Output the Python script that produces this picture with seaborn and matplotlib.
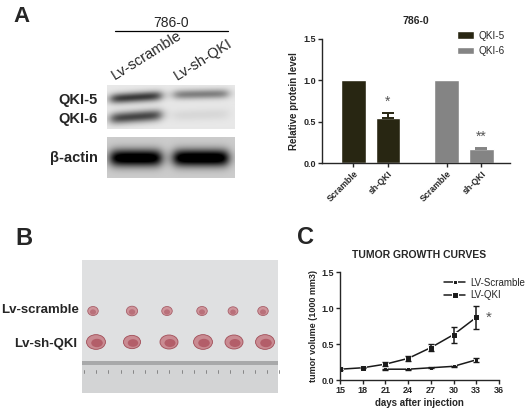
import numpy as np
import pandas as pd
import matplotlib
matplotlib.use("Agg")
import matplotlib.pyplot as plt
import seaborn as sns
from matplotlib.patches import Ellipse, Rectangle

# ---------------- data ----------------
# Panel A bar chart
bar_groups = ["QKI-5", "QKI-5", "QKI-6", "QKI-6"]
bar_labels = ["Scramble", "sh-QKI", "Scramble", "sh-QKI"]
bar_values = [1.0, 0.55, 1.0, 0.165]
bar_errors = [0.0, 0.05, 0.0, 0.02]
bar_stars = ["", "*", "", "**"]

# Panel A western blot band strengths [Lv-scramble, Lv-sh-QKI]
blot_lanes = ["Lv-scramble", "Lv-sh-QKI"]
band_qki5 = [0.75, 0.45]
band_qki6 = [0.70, 0.07]
band_actin = [0.95, 0.97]

# Panel B tumour sizes (relative) for 6 mice
tumor_scramble = [0.75, 0.8, 0.75, 0.75, 0.7, 0.75]
tumor_shqki = [1.05, 0.95, 1.0, 1.05, 1.0, 1.05]

# Panel C growth curves
days_scr = [21, 24, 27, 30, 33]
vol_scr = [0.15, 0.15, 0.17, 0.19, 0.28]
err_scr = [0.005, 0.005, 0.01, 0.01, 0.03]
days_qki = [15, 18, 21, 24, 27, 30, 33]
vol_qki = [0.15, 0.17, 0.22, 0.30, 0.45, 0.63, 0.87]
err_qki = [0.01, 0.01, 0.03, 0.035, 0.05, 0.11, 0.16]
day_ticks = [15, 18, 21, 24, 27, 30, 33, 36]

# ---------------- style ----------------
sns.set_theme(style="ticks")
plt.rcParams["font.family"] = ["Liberation Sans", "DejaVu Sans"]
plt.rcParams["axes.linewidth"] = 1.0

W, H = 528, 411
fig = plt.figure(figsize=(W / 100, H / 100), dpi=100)

# canvas axes in pixel coords for illustrations
cv = fig.add_axes([0, 0, 1, 1], zorder=0)
cv.set_xlim(0, W)
cv.set_ylim(H, 0)
cv.axis("off")

# panel letters
cv.text(22, 17, "A", fontsize=16, fontweight="bold", ha="center", va="center")
cv.text(24, 238, "B", fontsize=17, fontweight="bold", ha="center", va="center")
cv.text(306, 237, "C", fontsize=17, fontweight="bold", ha="center", va="center")

# ---------------- Panel A: blot ----------------
cv.text(171, 23, "786-0", fontsize=10, ha="center", va="center")
cv.plot([115, 228], [31, 31], color="black", lw=0.9)
cv.text(116, 83, "Lv-scramble", fontsize=10.5, rotation=32, ha="left", va="bottom",
        rotation_mode="anchor")
cv.text(179, 83, "Lv-sh-QKI", fontsize=10.5, rotation=32, ha="left", va="bottom",
        rotation_mode="anchor")
cv.text(98, 100, "QKI-5", fontsize=10.5, fontweight="bold", ha="right", va="center")
cv.text(98, 119, "QKI-6", fontsize=10.5, fontweight="bold", ha="right", va="center")
cv.text(98, 158, "\u03b2-actin", fontsize=10.5, fontweight="bold", ha="right", va="center")

lane_cx = [136, 201]
lane_hw = [25, 27]


def blot_image(x0, x1, y0, y1, bg, bands):
    xs = np.arange(x0, x1) + 0.5
    ys = np.arange(y0, y1) + 0.5
    X, Y = np.meshgrid(xs, ys)
    img = np.full(X.shape, bg)
    for (lane, cy, sy, strength, slope) in bands:
        cx, hw = lane_cx[lane], lane_hw[lane]
        box = 1 / (1 + np.exp(-(hw - np.abs(X - cx)) / 3.0))
        prof = np.exp(-0.5 * ((Y - cy + slope * (X - cx)) / sy) ** 2)
        img = img + strength * box * prof
    return np.clip(img, 0, 1)


up = blot_image(107, 235, 86, 129, 0.1, [
    (0, 98, 3.5, band_qki5[0], 0.06), (1, 95, 3.3, band_qki5[1], 0.02),
    (0, 117, 4.0, band_qki6[0], 0.07), (1, 115, 4.0, band_qki6[1], 0.03)])
cv.imshow(up, cmap="gray_r", vmin=0, vmax=1.1, extent=(107, 235, 129, 86),
          aspect="auto", interpolation="bilinear")
lo = blot_image(107, 235, 137, 178, 0.2, [
    (0, 158, 6.0, band_actin[0], 0.0), (1, 158, 6.0, band_actin[1], 0.0)])
cv.imshow(lo, cmap="gray_r", vmin=0, vmax=1.0, extent=(107, 235, 178, 137),
          aspect="auto", interpolation="bilinear")

# ---------------- Panel B: tumour photo ----------------
cv.add_patch(Rectangle((82, 260), 196, 133, facecolor="#dfe0e1", edgecolor="none"))
cv.add_patch(Rectangle((82, 362), 196, 31, facecolor="#d3d4d5", edgecolor="none"))
cv.add_patch(Rectangle((82, 361), 196, 4, facecolor="#a8a9aa", edgecolor="none"))
for i in range(17):
    xx = 84 + i * 12.2
    cv.plot([xx, xx], [370, 373], color="#7a7a7a", lw=0.6)
tx1 = [93, 132, 167, 202, 233, 263]
tx2 = [96, 132, 169, 203, 234, 265]
for i, s in enumerate(tumor_scramble):
    cv.add_patch(Ellipse((tx1[i], 311), 14 * s, 12 * s, facecolor="#cf959b",
                         edgecolor="#a8606a", lw=0.6))
    cv.add_patch(Ellipse((tx1[i], 312), 8 * s, 7 * s, facecolor="#b9707a", edgecolor="none"))
for i, s in enumerate(tumor_shqki):
    cv.add_patch(Ellipse((tx2[i], 342), 18 * s, 14 * s, facecolor="#c98b92",
                         edgecolor="#a14d57", lw=0.6))
    cv.add_patch(Ellipse((tx2[i] + 1, 343), 11 * s, 8 * s, facecolor="#b35e69", edgecolor="none"))
cv.text(79, 310, "Lv-scramble", fontsize=9.5, fontweight="bold", ha="right", va="center")
cv.text(77, 344, "Lv-sh-QKI", fontsize=9.5, fontweight="bold", ha="right", va="center")

# ---------------- Panel A: bar chart ----------------
positions = [0, 1, 2.71, 3.71]
df_bar = pd.DataFrame({"pos": positions, "val": bar_values, "iso": bar_groups})
axb = fig.add_axes([322 / W, 1 - 163 / H, (510 - 322) / W, (163 - 39) / H], zorder=2)
bar_palette = {"QKI-5": "#282612", "QKI-6": "#848484"}
sns.barplot(data=df_bar, x="pos", y="val", hue="iso", palette=bar_palette,
            native_scale=True, width=0.72, errorbar=None, saturation=1,
            dodge=False, ax=axb, legend=True)
for p, v, e, s, g in zip(positions, bar_values, bar_errors, bar_stars, bar_groups):
    if e > 0:
        axb.errorbar([p], [v], yerr=[[0], [e]], color=bar_palette[g], capsize=4,
                     elinewidth=1.4, capthick=1.4)
    if s:
        axb.text(p, v + e + 0.05, s, ha="center", va="bottom", fontsize=10,
                 color="#555555")
axb.set_xlim(-0.913, 4.54)
axb.set_ylim(0, 1.5)
axb.set_yticks([0.0, 0.5, 1.0, 1.5])
axb.set_yticklabels(["0.0", "0.5", "1.0", "1.5"], fontsize=6.5, fontweight="bold")
axb.set_xticks(positions)
axb.set_xticklabels(bar_labels, rotation=45, ha="right", rotation_mode="anchor",
                    fontsize=6.3, fontweight="bold")
axb.set_xlabel("")
axb.set_ylabel("Relative protein level", fontsize=7, fontweight="bold", labelpad=3)
axb.set_title("786-0", fontsize=7.5, fontweight="bold", pad=11)
axb.tick_params(length=3, width=1, pad=1.5)
sns.despine(ax=axb)
axb.legend(loc="upper right", bbox_to_anchor=(1.02, 1.14), frameon=False, fontsize=7.2,
           handlelength=1.7, handleheight=0.8, labelspacing=0.55, handletextpad=0.5)

# ---------------- Panel C: line chart ----------------
axl = fig.add_axes([340 / W, 1 - 380 / H, (499 - 340) / W, (380 - 272) / H], zorder=2)
df_scr = pd.DataFrame({"day": days_scr, "vol": vol_scr})
df_qki = pd.DataFrame({"day": days_qki, "vol": vol_qki})
sns.lineplot(data=df_scr, x="day", y="vol", color="#1a1a1a", marker="s", markersize=3,
             lw=1.1, label="LV-Scramble", ax=axl)
sns.lineplot(data=df_qki, x="day", y="vol", color="#1a1a1a", marker="s", markersize=4.5,
             lw=1.1, label="LV-QKI", ax=axl)
axl.errorbar(days_scr, vol_scr, yerr=err_scr, fmt="none", ecolor="#1a1a1a",
             capsize=2.5, elinewidth=1.1)
axl.errorbar(days_qki, vol_qki, yerr=err_qki, fmt="none", ecolor="#1a1a1a",
             capsize=2.5, elinewidth=1.1)
axl.text(34.2, vol_qki[-1], "*", fontsize=11, color="#555555", ha="left", va="center")
axl.set_xlim(15, 36)
axl.set_ylim(0, 1.5)
axl.set_xticks(day_ticks)
axl.set_xticklabels([str(d) for d in day_ticks], fontsize=6.5, fontweight="bold")
axl.set_yticks([0.0, 0.5, 1.0, 1.5])
axl.set_yticklabels(["0.0", "0.5", "1.0", "1.5"], fontsize=6.5, fontweight="bold")
axl.set_xlabel("days after injection", fontsize=7, fontweight="bold", labelpad=2)
axl.set_ylabel("tumor volume (1000 mm3)", fontsize=6.5, fontweight="bold", labelpad=2)
axl.set_title("TUMOR GROWTH CURVES", fontsize=7.5, fontweight="bold", pad=10)
axl.tick_params(length=3, width=1, pad=1.5)
sns.despine(ax=axl)
axl.legend(loc="upper right", bbox_to_anchor=(1.22, 1.03), frameon=False, fontsize=7,
           handlelength=2.2, labelspacing=0.3, handletextpad=0.5)

fig.savefig("out.png", dpi=100)
